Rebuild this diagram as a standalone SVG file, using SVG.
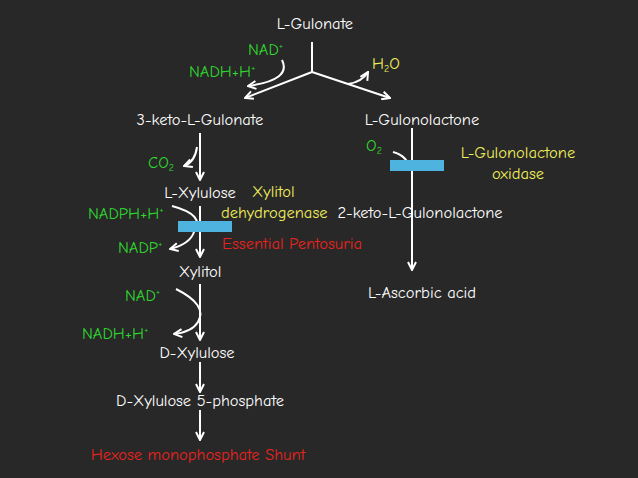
<svg xmlns="http://www.w3.org/2000/svg" width="638" height="478" viewBox="0 0 638 478">
<style>
text{font-family:"Comic Neue","DejaVu Sans",sans-serif;font-size:16.5px}
.w{fill:#fff}.g{fill:#2fd62f}.y{fill:#f0ee5a}.r{fill:#e8231e}
.l{stroke:#fff;stroke-width:2;fill:none;marker-end:url(#a)}
.p{stroke:#fff;stroke-width:2;fill:none}
.bar{fill:#4fb3e0}
</style>
<defs><marker id="a" viewBox="0 0 10 10" refX="9" refY="5" markerWidth="5" markerHeight="5" orient="auto"><path d="M1 1L9 5L1 9" fill="none" stroke="#fff" stroke-width="2"/></marker></defs>
<rect width="638" height="478" fill="#282828"/>
<g id="connectors">
<path class="p" d="M312 42V72"/>
<path class="l" d="M312 72L245 98"/>
<path class="l" d="M312 72L390 98"/>
<path class="l" d="M282 60Q292 80 248 86"/>
<path class="l" d="M348 84Q362 82 368 72"/>
<path class="l" d="M200 133V180"/>
<path class="l" d="M197 147Q195 162 184 166"/>
<path class="l" d="M200 206V257"/>
<path class="l" d="M172 206Q206 215 194 232Q190 244 170 249"/>
<path class="l" d="M200 284V340"/>
<path class="l" d="M176 289Q208 305 198 322Q192 332 174 334"/>
<path class="l" d="M200 362V392"/>
<path class="l" d="M200 410V440"/>
<path class="l" d="M412 128V270"/>
<path class="p" d="M393 152Q408 156 410 170"/>
</g>
<rect class="bar" x="178" y="221" width="54" height="11"/>
<rect class="bar" x="390" y="160" width="54" height="11"/>
<g id="nodes">
<g id="n1"><text class="w" x="315" y="29" text-anchor="middle">L-Gulonate</text></g>
<g id="n2"><text class="g" x="248" y="55">NAD<tspan font-size="10" dy="-6">+</tspan></text></g>
<g id="n3"><text class="g" x="189" y="77">NADH+H<tspan font-size="10" dy="-6">+</tspan></text></g>
<g id="n4"><text class="y" x="372" y="69">H<tspan font-size="10" dy="3">2</tspan><tspan dy="-3">O</tspan></text></g>
<g id="n5"><text class="w" x="200" y="125" text-anchor="middle">3-keto-L-Gulonate</text></g>
<g id="n6"><text class="w" x="422" y="125" text-anchor="middle">L-Gulonolactone</text></g>
<g id="n7"><text class="g" x="148" y="168">CO<tspan font-size="10" dy="3">2</tspan></text></g>
<g id="n8"><text class="g" x="366" y="151">O<tspan font-size="10" dy="3">2</tspan></text></g>
<g id="n9"><text class="y" x="518" y="158" text-anchor="middle">L-Gulonolactone</text><text class="y" x="518" y="179" text-anchor="middle">oxidase</text></g>
<g id="n10"><text class="w" x="200" y="198" text-anchor="middle">L-Xylulose</text></g>
<g id="n11"><text class="y" x="252" y="197">Xylitol</text><text class="y" x="221" y="218">dehydrogenase</text></g>
<g id="n12"><text class="w" x="420" y="218" text-anchor="middle">2-keto-L-Gulonolactone</text></g>
<g id="n13"><text class="g" x="88" y="219">NADPH+H<tspan font-size="10" dy="-6">+</tspan></text></g>
<g id="n14"><text class="g" x="118" y="253">NADP<tspan font-size="10" dy="-6">+</tspan></text></g>
<g id="n15"><text class="r" x="222" y="249">Essential Pentosuria</text></g>
<g id="n16"><text class="w" x="200" y="277" text-anchor="middle">Xylitol</text></g>
<g id="n17"><text class="w" x="422" y="298" text-anchor="middle">L-Ascorbic acid</text></g>
<g id="n18"><text class="g" x="125" y="301">NAD<tspan font-size="10" dy="-6">+</tspan></text></g>
<g id="n19"><text class="g" x="82" y="339">NADH+H<tspan font-size="10" dy="-6">+</tspan></text></g>
<g id="n20"><text class="w" x="197" y="358" text-anchor="middle">D-Xylulose</text></g>
<g id="n21"><text class="w" x="200" y="406" text-anchor="middle">D-Xylulose 5-phosphate</text></g>
<g id="n22"><text class="r" x="198" y="460" text-anchor="middle">Hexose monophosphate Shunt</text></g>
</g>
</svg>
